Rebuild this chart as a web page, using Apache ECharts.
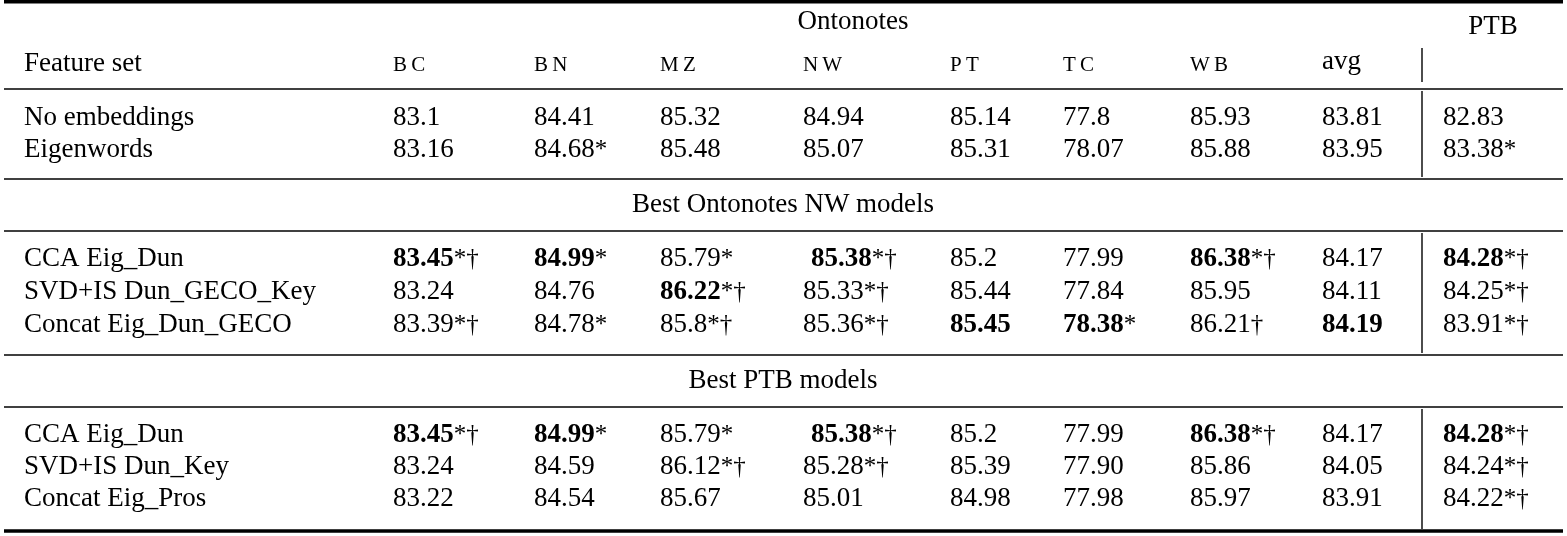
<!DOCTYPE html>
<html>
<head>
<meta charset="utf-8">
<script src="https://cdn.jsdelivr.net/npm/echarts@6/dist/echarts.min.js"></script>
<style>html,body{margin:0;padding:0;background:#fff;}#main{width:1567px;height:536px;}</style>
</head>
<body>
<div id="main"></div>
<script>
// column heads and data of the table
var columns = ['BC','BN','MZ','NW','PT','TC','WB','avg'];
var groupTitles = ['Best Ontonotes NW models','Best PTB models'];
var rowLabels = [
  ['No embeddings','Eigenwords'],
  ['CCA Eig_Dun','SVD+IS Dun_GECO_Key','Concat Eig_Dun_GECO'],
  ['CCA Eig_Dun','SVD+IS Dun_Key','Concat Eig_Pros']
];
// each cell: [number, marks]; last one is the PTB column
var cells = [
  [[['83.1',''],['84.41',''],['85.32',''],['84.94',''],['85.14',''],['77.8',''],['85.93',''],['83.81',''],['82.83','']],
   [['83.16',''],['84.68','*'],['85.48',''],['85.07',''],['85.31',''],['78.07',''],['85.88',''],['83.95',''],['83.38','*']]],
  [[['83.45','*†'],['84.99','*'],['85.79','*'],['85.38','*†'],['85.2',''],['77.99',''],['86.38','*†'],['84.17',''],['84.28','*†']],
   [['83.24',''],['84.76',''],['86.22','*†'],['85.33','*†'],['85.44',''],['77.84',''],['85.95',''],['84.11',''],['84.25','*†']],
   [['83.39','*†'],['84.78','*'],['85.8','*†'],['85.36','*†'],['85.45',''],['78.38','*'],['86.21','†'],['84.19',''],['83.91','*†']]],
  [[['83.45','*†'],['84.99','*'],['85.79','*'],['85.38','*†'],['85.2',''],['77.99',''],['86.38','*†'],['84.17',''],['84.28','*†']],
   [['83.24',''],['84.59',''],['86.12','*†'],['85.28','*†'],['85.39',''],['77.90',''],['85.86',''],['84.05',''],['84.24','*†']],
   [['83.22',''],['84.54',''],['85.67',''],['85.01',''],['84.98',''],['77.98',''],['85.97',''],['83.91',''],['84.22','*†']]]
];
// bold cells: [group,row,col]
var boldCells = [
  [1,0,0],[1,0,1],[1,0,3],[1,0,6],[1,0,8],[1,1,2],[1,2,4],[1,2,5],[1,2,7],
  [2,0,0],[2,0,1],[2,0,3],[2,0,6],[2,0,8]
];

var FONT = '"Liberation Serif","DejaVu Serif",serif';
var colX = [393,534,660,803,950,1063,1190,1322,1443];
var rowY = [[118,150],[259,292,325],[435,467,499]];
var groupTitleY = [205,381];
var rules = [[1.75,3.5],[89,1.4],[179,1.4],[231,1.4],[355,1.4],[407,1.4],[531,3.5]];
var barSegs = [[48,82],[91,177],[233,353],[409,529]];

function isBold(g,r,c){
  return boldCells.some(function(b){return b[0]==g&&b[1]==r&&b[2]==c;});
}
function txt(x,y,text,size,align){
  return {type:'text',x:x,y:y,style:{text:text,fontFamily:FONT,fontSize:size||27,
    fill:'#000',align:align||'left',verticalAlign:'middle'}};
}

var g = [];
rules.forEach(function(r){
  g.push({type:'line',shape:{x1:4,y1:r[0],x2:1563,y2:r[0]},style:{stroke:'#000',lineWidth:r[1]}});
});
barSegs.forEach(function(s){
  g.push({type:'line',shape:{x1:1422,y1:s[0],x2:1422,y2:s[1]},style:{stroke:'#000',lineWidth:1.4}});
});
g.push(txt(853,22,'Ontonotes',27,'center'));
g.push(txt(1493,27,'PTB',27,'center'));
g.push(txt(24,64,'Feature set'));
columns.forEach(function(c,i){
  if(c=='avg') g.push(txt(colX[i],62,c));
  else g.push(txt(colX[i],65,c.split('').join('\u2009'),21));
});
groupTitles.forEach(function(t,i){ g.push(txt(783,groupTitleY[i],t)); g[g.length-1].style.align='center'; });

var rich = {
  b:{fontFamily:FONT,fontSize:27,fontWeight:'bold',fill:'#000'},
  n:{fontFamily:FONT,fontSize:27,fill:'#000'},
  s:{fontFamily:FONT,fontSize:25,fill:'#000'}
};
rowLabels.forEach(function(labels,gi){
  labels.forEach(function(lab,ri){
    var y = rowY[gi][ri];
    g.push(txt(24,y,lab));
    cells[gi][ri].forEach(function(cell,ci){
      var b = isBold(gi,ri,ci);
      var x = colX[ci] + (b && ci==3 ? 8 : 0);
      var t = '{'+(b?'b':'n')+'|'+cell[0]+'}' + (cell[1] ? '{s|'+cell[1]+'}' : '');
      g.push({type:'text',x:x,y:y,style:{text:t,rich:rich,fontFamily:FONT,fontSize:27,verticalAlign:'middle',fill:'#000'}});
    });
  });
});

var chart = echarts.init(document.getElementById('main'));
chart.setOption({backgroundColor:'#fff',animation:false,graphic:{elements:g}});
</script>
</body>
</html>
